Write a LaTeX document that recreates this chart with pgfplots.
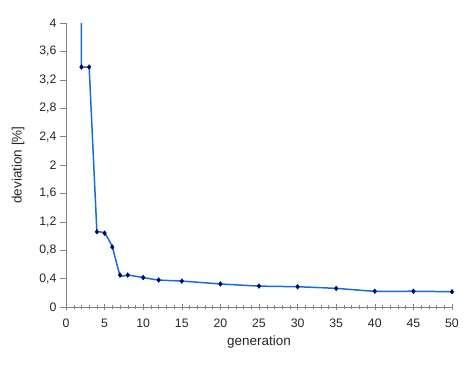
\documentclass[border=0pt]{standalone}
\usepackage{pgfplots}
\pgfplotsset{compat=1.18}
\usepackage{fontspec}
\setmainfont{Liberation Sans}
\definecolor{lineblue}{RGB}{25,110,210}
\definecolor{navy}{RGB}{0,0,110}
\definecolor{axgray}{RGB}{130,130,130}
\begin{document}
\begin{tikzpicture}
\useasboundingbox (-66pt,-61pt) rectangle (408pt,307pt);
\begin{axis}[
  scale only axis,
  width=386pt, height=284pt,
  xmin=0, xmax=50, ymin=0, ymax=4,
  axis lines=left,
  axis line style={draw=axgray, thin, -},
  xtick={0,5,...,50},
  minor x tick num=4,
  ytick={0,0.4,...,4.01},
  x tick style={draw=axgray, thin},
  y tick style={draw=axgray, thin},
  xtick align=center,
  ytick align=outside,
  major tick length=6pt,
  minor tick length=4pt,
  tick label style={font=\fontsize{12.3}{14}\selectfont, text=black!85},
  xticklabel style={yshift=-5pt},
  /pgf/number format/use comma,
  /pgf/number format/assume math mode=true,
  yticklabel style={/pgf/number format/fixed, /pgf/number format/precision=1},
  xlabel={generation},
  ylabel={deviation [\%]},
  label style={font=\fontsize{13.5}{15}\selectfont, text=black!85},
  xlabel style={yshift=-2pt},
  ylabel style={yshift=8pt},
  clip=true,
]
\addplot[lineblue, line width=1.5pt]
  coordinates {(1.97,4.3) (2,3.38) (3,3.38) (4,1.06)};
\addplot[lineblue, line width=1.5pt, smooth, tension=0.35]
  coordinates {
  (4,1.06) (5,1.04) (6,0.845) (7,0.45) (8,0.45)
  (10,0.415) (12,0.38) (15,0.365) (20,0.325) (25,0.295) (30,0.285)
  (35,0.262) (40,0.222) (45,0.222) (50,0.215)
  };
\addplot[only marks, mark=diamond*, mark size=2.4pt, mark options={navy, fill=navy, line width=0.4pt}]
  coordinates {
  (2,3.38) (3,3.38) (4,1.06) (5,1.04) (6,0.845) (7,0.45) (8,0.45)
  (10,0.415) (12,0.38) (15,0.365) (20,0.325) (25,0.295) (30,0.285)
  (35,0.262) (40,0.222) (45,0.222) (50,0.215)
  };
\end{axis}
\end{tikzpicture}
\end{document}
